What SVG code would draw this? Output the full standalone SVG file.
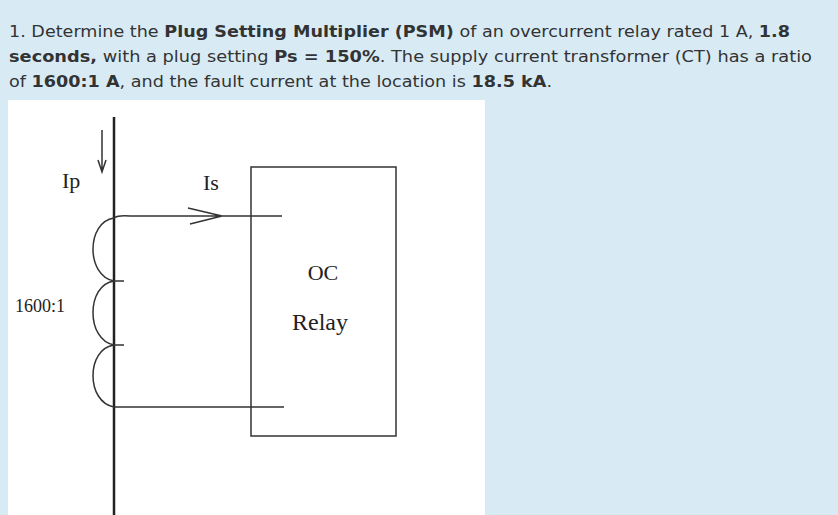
<svg xmlns="http://www.w3.org/2000/svg" width="838" height="515" viewBox="0 0 838 515">
<style>
.q{font-family:"DejaVu Sans",Verdana,sans-serif;font-size:16.5px;fill:#333}
.b{font-weight:bold}
.s{font-family:"Liberation Serif",serif;fill:#222}
.ln{stroke:#333;fill:none;stroke-width:1.5}
</style>
<rect width="838" height="515" fill="#d8ebf5"/>
<g id="question">
<text class="q" x="9" y="37" textLength="781" lengthAdjust="spacingAndGlyphs">1. Determine the <tspan class="b">Plug Setting Multiplier (PSM)</tspan> of an overcurrent relay rated 1 A, <tspan class="b">1.8</tspan></text>
<text class="q" x="9" y="62" textLength="803" lengthAdjust="spacingAndGlyphs"><tspan class="b">seconds,</tspan> with a plug setting <tspan class="b">Ps = 150%</tspan>. The supply current transformer (CT) has a ratio</text>
<text class="q" x="9" y="87" textLength="543" lengthAdjust="spacingAndGlyphs">of <tspan class="b">1600:1 A</tspan>, and the fault current at the location is <tspan class="b">18.5 kA</tspan>.</text>
</g>
<rect x="8" y="100" width="477" height="415" fill="#fff"/>
<g id="connectors">
<line x1="114" y1="117" x2="114" y2="515" stroke="#222" stroke-width="2.5"/>
<path class="ln" d="M102 130V172M98 160L102 172L106 160"/>
<path class="ln" d="M114 218Q118 215 130 216H282M188 208L222 216L190 224"/>
<path class="ln" d="M114 218C86 222 86 276 114 281M114 281h10M114 281C86 285 86 340 114 345M114 345h10M114 345C86 349 86 402 114 407H284"/>
</g>
<g id="relay">
<rect x="251" y="167" width="145" height="269" class="ln"/>
<text class="s" x="323" y="280" font-size="22" text-anchor="middle">OC</text>
<text class="s" x="320" y="330" font-size="24" text-anchor="middle">Relay</text>
</g>
<g id="labels">
<text class="s" x="62" y="188" font-size="22">Ip</text>
<text class="s" x="203" y="190" font-size="22">Is</text>
<text class="s" x="15" y="312" font-size="18">1600:1</text>
</g>
</svg>
